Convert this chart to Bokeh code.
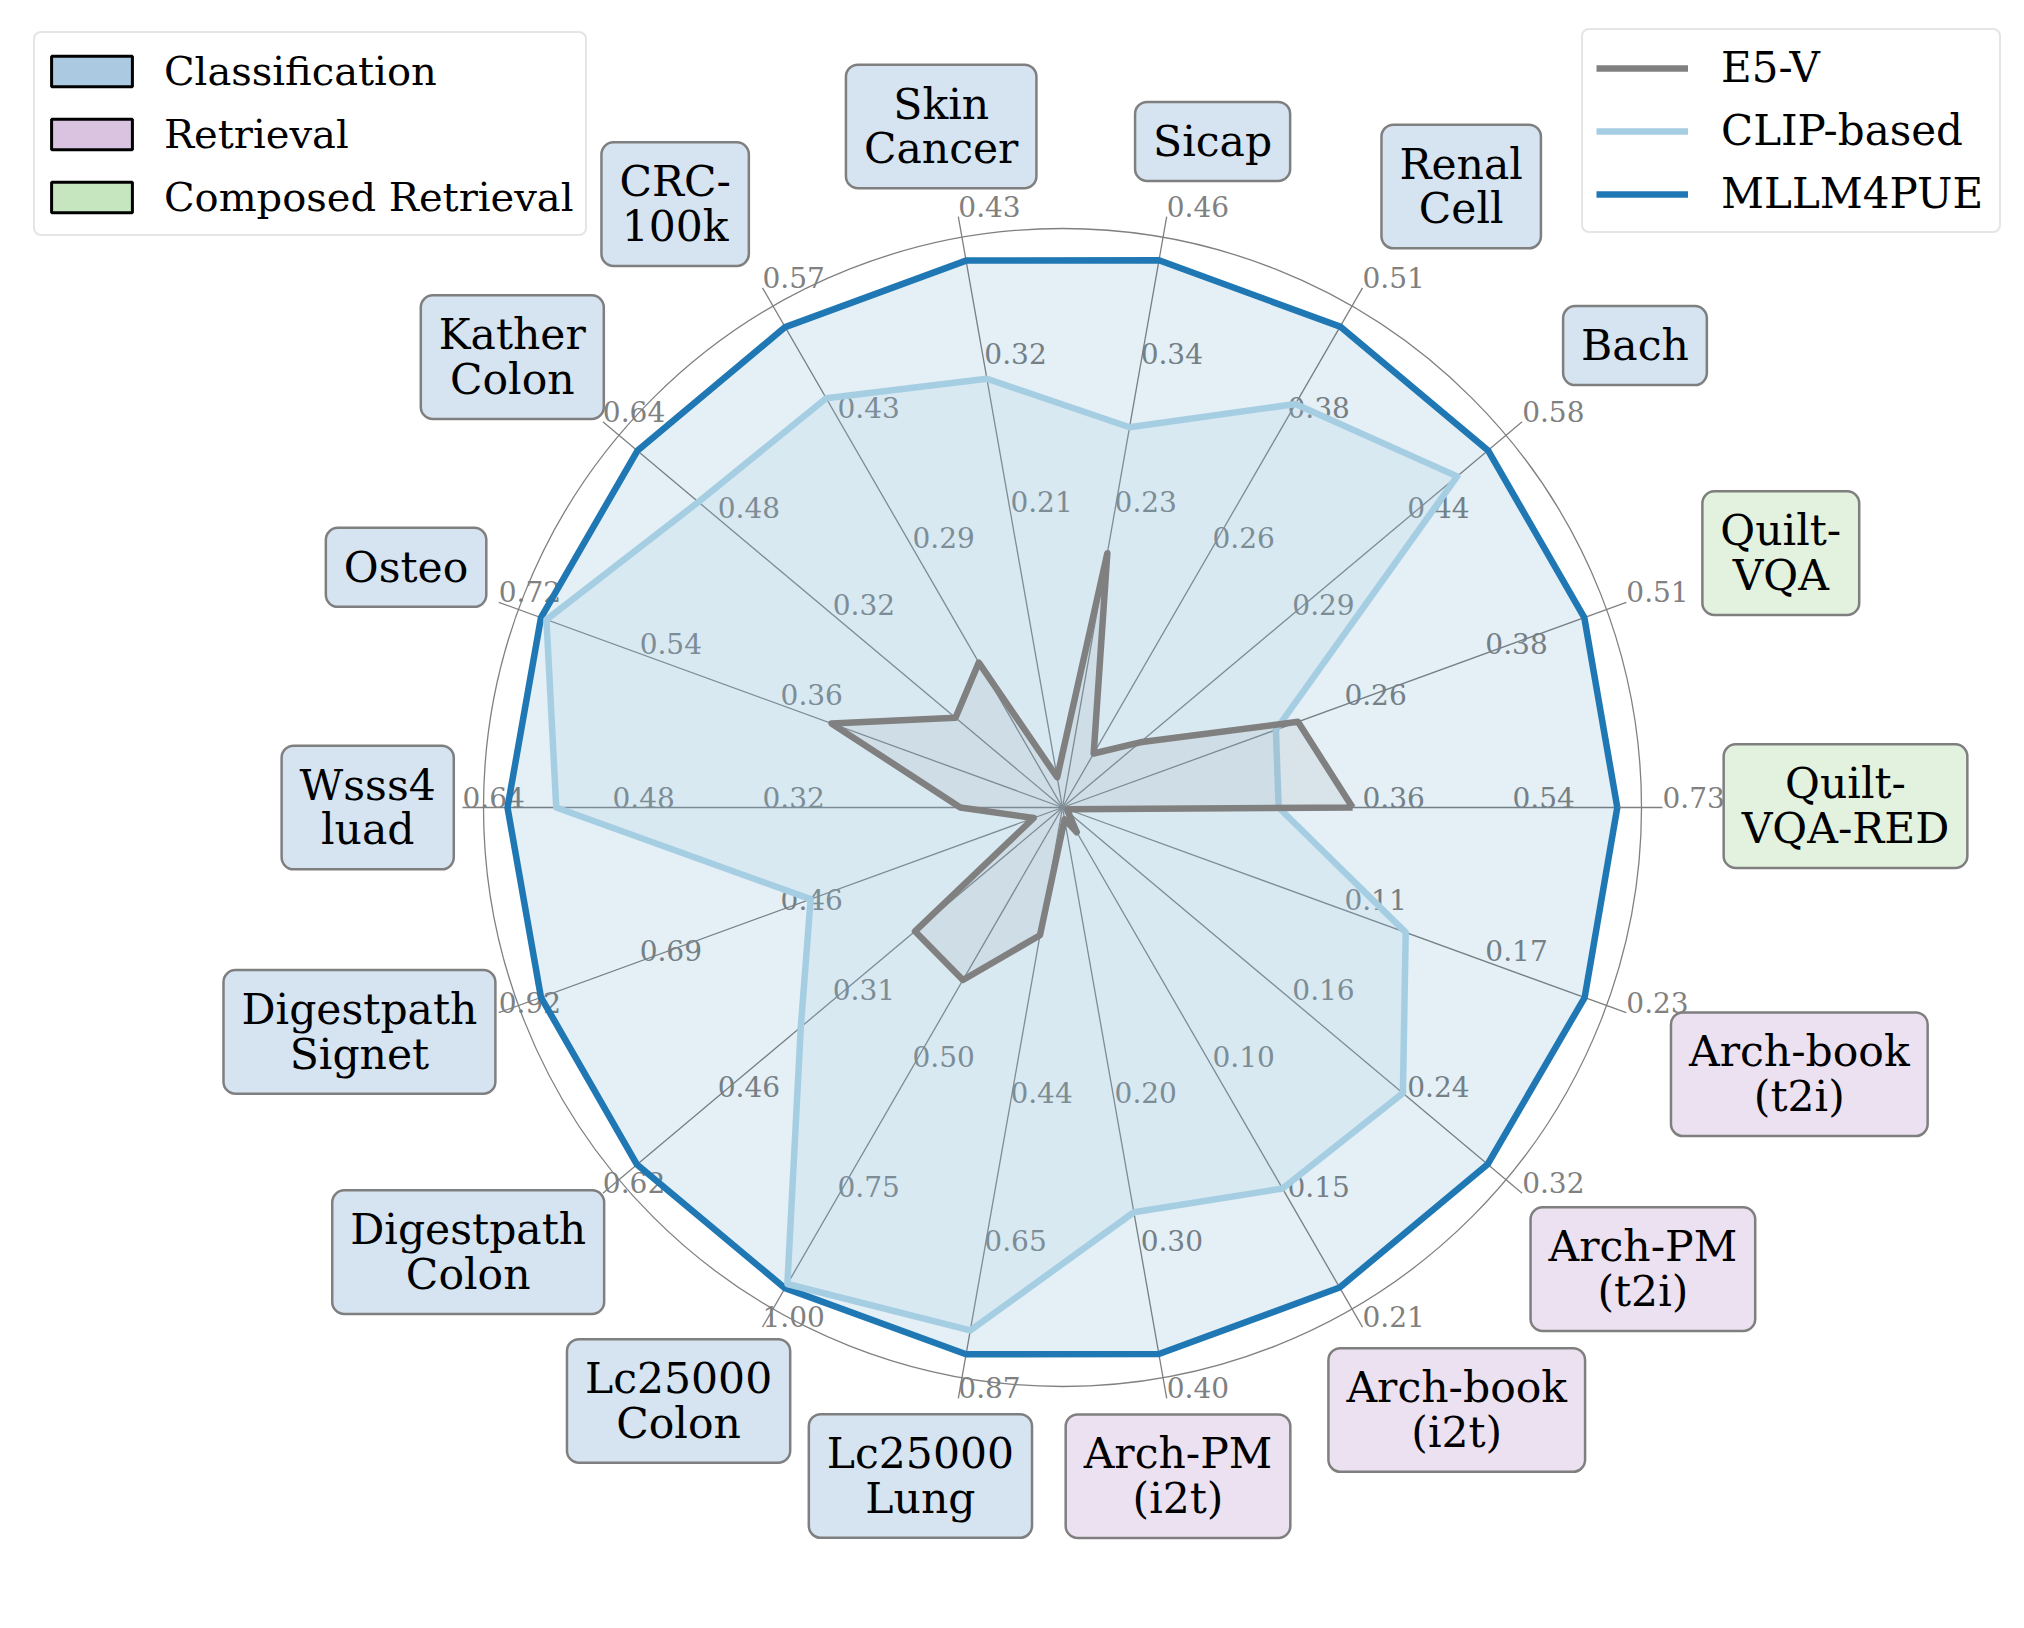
import numpy as np
from bokeh.plotting import figure
from bokeh.models import Range1d, ColumnDataSource, Legend, LegendItem
from bokeh.core.properties import value
from bokeh.embed import file_html
from bokeh.resources import INLINE

# ---------------- data ----------------
categories = ["Quilt-VQA-RED", "Quilt-VQA", "Bach", "Renal Cell", "Sicap", "Skin Cancer",
              "CRC-100k", "Kather Colon", "Osteo", "Wsss4 luad", "Digestpath Signet",
              "Digestpath Colon", "Lc25000 Colon", "Lc25000 Lung", "Arch-PM (i2t)",
              "Arch-book (i2t)", "Arch-PM (t2i)", "Arch-book (t2i)"]
category_labels = ["Quilt-\nVQA-RED", "Quilt-\nVQA", "Bach", "Renal\nCell", "Sicap", "Skin\nCancer",
                   "CRC-\n100k", "Kather\nColon", "Osteo", "Wsss4\nluad", "Digestpath\nSignet",
                   "Digestpath\nColon", "Lc25000\nColon", "Lc25000\nLung", "Arch-PM\n(i2t)",
                   "Arch-book\n(i2t)", "Arch-PM\n(t2i)", "Arch-book\n(t2i)"]
task_types = ["Composed Retrieval", "Composed Retrieval"] + ["Classification"] * 12 + ["Retrieval"] * 4
task_names = ["Classification", "Retrieval", "Composed Retrieval"]

axis_max = [0.73, 0.51, 0.58, 0.51, 0.46, 0.43, 0.57, 0.64, 0.72, 0.64,
            0.92, 0.62, 1.00, 0.87, 0.40, 0.21, 0.32, 0.23]
tick_half = ["0.36", "0.26", "0.29", "0.26", "0.23", "0.21", "0.29", "0.32", "0.36", "0.32",
             "0.46", "0.31", "0.50", "0.44", "0.20", "0.10", "0.16", "0.11"]
tick_three_quarter = ["0.54", "0.38", "0.44", "0.38", "0.34", "0.32", "0.43", "0.48", "0.54", "0.48",
                      "0.69", "0.46", "0.75", "0.65", "0.30", "0.15", "0.24", "0.17"]
tick_full = ["0.73", "0.51", "0.58", "0.51", "0.46", "0.43", "0.57", "0.64", "0.72", "0.64",
             "0.92", "0.62", "1.00", "0.87", "0.40", "0.21", "0.32", "0.23"]

series_names = ["E5-V", "CLIP-based", "MLLM4PUE"]
e5v = [0.353, 0.213, 0.098, 0.053, 0.198, 0.022, 0.159, 0.149, 0.295, 0.109,
       0.047, 0.199, 0.332, 0.188, 0.008, 0.010, 0.004, 0.002]
clip_based = [0.263, 0.193, 0.498, 0.396, 0.296, 0.312, 0.449, 0.507, 0.659, 0.540,
              0.411, 0.353, 0.917, 0.770, 0.274, 0.154, 0.237, 0.140]
mllm4pue = [0.675, 0.472, 0.537, 0.472, 0.426, 0.398, 0.527, 0.592, 0.666, 0.592,
            0.851, 0.574, 0.925, 0.805, 0.370, 0.194, 0.296, 0.213]

# ---------------- layout / style ----------------
R = 600.0
TICK_FRACS = [0.5, 0.75, 1.0]
OUTER_RING = 0.965
LABEL_RADIUS = [1.305, 1.270, 1.226, 1.230, 1.138, 1.153, 1.195, 1.185, 1.165, 1.158,
                1.230, 1.237, 1.178, 1.139, 1.131, 1.200, 1.236, 1.306]
LABEL_ANGLE_SHIFT = [0.1, -0.5, -1.1, -2.7, -2.7, 0.1, 2.7, 0.7, -0.1, 0.0,
                     -2.3, -3.2, -2.9, -2.0, -0.2, 3.2, 1.5, 0.1]
TASK_COLORS = {"Classification": "#abc9e1", "Retrieval": "#d9c3e1", "Composed Retrieval": "#c6e6c0"}
SERIES_COLORS = {"E5-V": "#808080", "CLIP-based": "#a6cee3", "MLLM4PUE": "#1f78b4"}
SERIES_FILL_ALPHA = {"E5-V": 0.10, "CLIP-based": 0.18, "MLLM4PUE": 0.12}
FONT = value("DejaVu Serif")

n = len(categories)
angles = np.deg2rad(np.arange(n) * 360.0 / n)
amax = np.array(axis_max)

p = figure(width=2008, height=1612, x_range=Range1d(-1062, 946), y_range=Range1d(-805, 807),
           output_backend="svg", toolbar_location=None, min_border=0,
           x_axis_location=None, y_axis_location=None)
p.grid.visible = False
p.outline_line_color = None
p.background_fill_color = "white"
p.border_fill_color = "white"

# spokes and outer ring
p.segment(x0=np.zeros(n), y0=np.zeros(n), x1=R * np.cos(angles), y1=R * np.sin(angles),
          line_color="#808080", line_width=1.3)
p.circle(x=[0], y=[0], radius=R * OUTER_RING, fill_color=None, line_color="#808080", line_width=1.3)

# radial tick labels
tx, ty, tt = [], [], []
for frac, labels in zip(TICK_FRACS, [tick_half, tick_three_quarter, tick_full]):
    for a, lab in zip(angles, labels):
        tx.append(R * frac * np.cos(a))
        ty.append(R * frac * np.sin(a))
        tt.append(lab)
p.text(x=tx, y=ty, text=tt, text_font=FONT, text_font_size=value("28px"),
       text_color="#808080", text_align="left", text_baseline="bottom")

# series
line_renderers = {}
for name, vals in [("MLLM4PUE", mllm4pue), ("CLIP-based", clip_based), ("E5-V", e5v)]:
    r = np.array(vals) / amax * R
    xs = r * np.cos(angles)
    ys = r * np.sin(angles)
    col = SERIES_COLORS[name]
    p.patch(x=xs, y=ys, fill_color=col, fill_alpha=SERIES_FILL_ALPHA[name], line_color=None)
    line_renderers[name] = p.line(x=np.append(xs, xs[0]), y=np.append(ys, ys[0]),
                                  line_color=col, line_width=6.5, line_join="round")

# category labels in rounded boxes
lab_ang = angles + np.deg2rad(LABEL_ANGLE_SHIFT)
lab_r = np.array(LABEL_RADIUS) * R
lab_src = ColumnDataSource(dict(
    x=lab_r * np.cos(lab_ang), y=lab_r * np.sin(lab_ang), text=category_labels,
    fill=[TASK_COLORS[t] for t in task_types]))
lab = p.text(x="x", y="y", text="text", source=lab_src, text_font=FONT,
             text_font_size=value("42.5px"), text_color="black",
             text_align="center", text_baseline="middle")
g = lab.glyph
try:
    g.anchor = "center"
except Exception:
    pass
try:
    g.text_line_height = 0.91
except Exception:
    pass
try:
    g.background_fill_color = "fill"
    g.background_fill_alpha = 0.5
    g.border_line_color = "#7f7f7f"
    g.border_line_width = 2.5
    g.border_radius = 12
except Exception:
    pass
try:
    g.padding = (18, 15)
except Exception:
    try:
        g.padding = 16
    except Exception:
        pass

# legend 1: task types
task_rs = []
for t in task_names:
    task_rs.append(p.quad(left=[np.nan], right=[np.nan], top=[np.nan], bottom=[np.nan],
                          fill_color=TASK_COLORS[t], line_color="black", line_width=3))
leg1 = Legend(items=[LegendItem(label=t, renderers=[r]) for t, r in zip(task_names, task_rs)],
              location=(33, 1376), label_text_font="DejaVu Serif", label_text_font_size="40px",
              label_text_color="black", glyph_width=101, glyph_height=38, label_standoff=22,
              label_height=63, label_width=415, spacing=0, padding=6,
              margin=0, border_line_color="#cccccc", border_line_width=2,
              background_fill_color="white", background_fill_alpha=1.0)

leg2 = Legend(items=[LegendItem(label=s, renderers=[line_renderers[s]]) for s in series_names],
              location=(1581, 1379), label_text_font="DejaVu Serif", label_text_font_size="42px",
              label_text_color="black", glyph_width=92, glyph_height=30, label_standoff=33,
              label_height=49, label_width=265, spacing=14, padding=13,
              margin=0, border_line_color="#cccccc", border_line_width=2,
              background_fill_color="white", background_fill_alpha=1.0)
for lg in (leg1, leg2):
    try:
        lg.border_radius = 8
    except Exception:
        pass
    p.add_layout(lg)

open("out.html", "w").write(file_html(p, INLINE))
